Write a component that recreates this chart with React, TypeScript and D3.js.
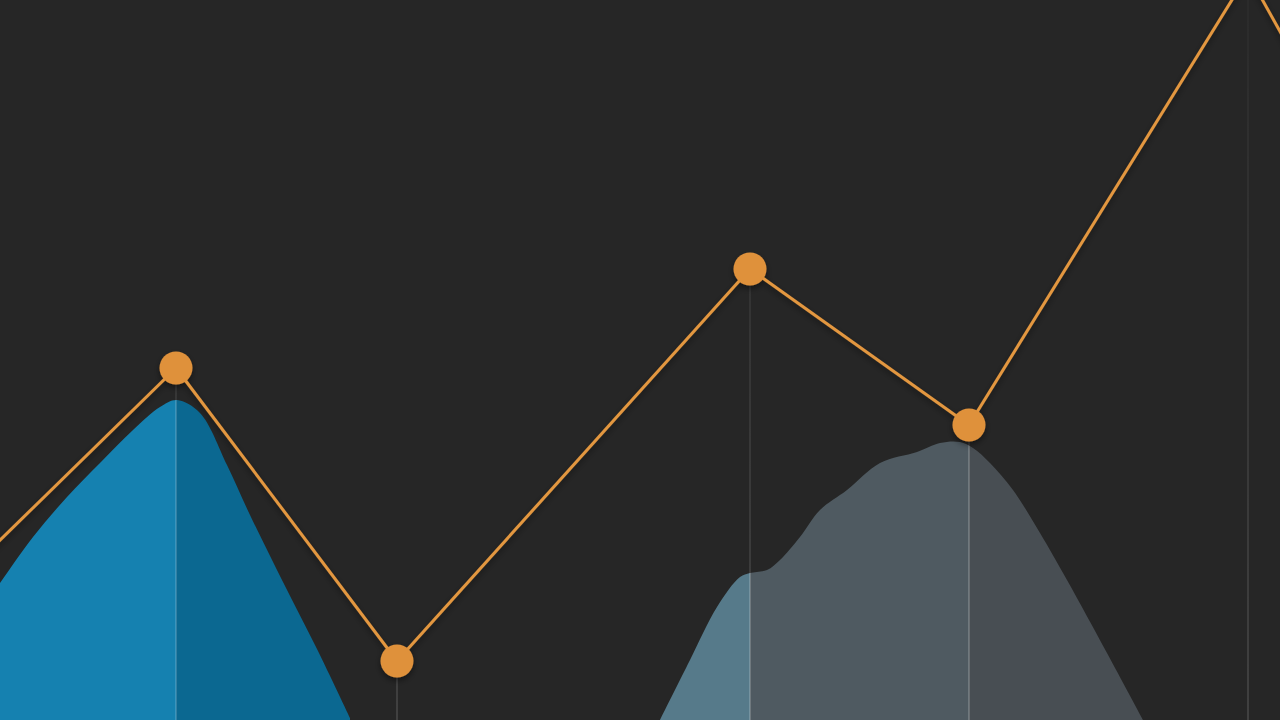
import React from "react";
import * as d3 from "d3";

const W = 1280;
const H = 720;

// Orange line series (x in chart units, y in chart units)
const lineX = [-1.0, 1.76, 3.97, 7.5, 9.69, 12.48, 13.5];
const lineY = [0.82, 3.52, 0.59, 4.51, 2.95, 7.46, 5.63];

// Blue mountain (left)
const blueX = [-0.5, 0, 0.33, 0.67, 1.0, 1.33, 1.6, 1.77, 2.0, 2.27, 2.5, 2.83, 3.17, 3.5];
const blueY = [0.67, 1.37, 1.83, 2.23, 2.57, 2.9, 3.13, 3.2, 3.07, 2.55, 2.05, 1.38, 0.71, 0.02];
const blueSplits = [1.76];
const blueColors = ["#1581b0", "#0b6891"];

// Gray mountain (right)
const grayX = [6.6, 6.9, 7.17, 7.4, 7.5, 7.67, 7.8, 8.0, 8.2, 8.47, 8.8, 9.17, 9.4, 9.6, 9.73, 9.9, 10.13, 10.4, 10.67, 11.07, 11.43];
const grayY = [0, 0.6, 1.13, 1.43, 1.47, 1.5, 1.6, 1.83, 2.1, 2.3, 2.57, 2.68, 2.77, 2.78, 2.72, 2.57, 2.3, 1.87, 1.4, 0.67, 0];
const graySplits = [7.5, 9.69];
const grayColors = ["#567a8a", "#4f5a61", "#484e53"];

const xDomain = [0, 12.8];
const yDomain = [0, 7.2];

export default function App() {
  const x = d3.scaleLinear().domain(xDomain).range([0, W]);
  const y = d3.scaleLinear().domain(yDomain).range([H, 0]);

  const area = d3
    .area<[number, number]>()
    .x((d) => x(d[0]))
    .y0(y(0))
    .y1((d) => y(d[1]))
    .curve(d3.curveCatmullRom.alpha(0.5));

  const line = d3
    .line<[number, number]>()
    .x((d) => x(d[0]))
    .y((d) => y(d[1]));

  const bluePts = blueX.map((v, i) => [v, blueY[i]] as [number, number]);
  const grayPts = grayX.map((v, i) => [v, grayY[i]] as [number, number]);
  const linePts = lineX.map((v, i) => [v, lineY[i]] as [number, number]);

  const bluePath = area(bluePts) || "";
  const grayPath = area(grayPts) || "";

  const segs = (splits: number[], lo: number, hi: number) => {
    const b = [lo, ...splits, hi];
    return b.slice(0, -1).map((s, i) => [s, b[i + 1]]);
  };
  const blueSegs = segs(blueSplits, blueX[0], blueX[blueX.length - 1] + 0.2);
  const graySegs = segs(graySplits, grayX[0] - 0.2, grayX[grayX.length - 1] + 0.2);

  return (
    <div style={{ position: "fixed", left: 0, top: 0, width: W, height: H }}>
      <svg width={W} height={H} style={{ display: "block" }}>
        <defs>
          <clipPath id="blueClip">
            <path d={bluePath} />
          </clipPath>
          <clipPath id="grayClip">
            <path d={grayPath} />
          </clipPath>
          <filter id="shadow" x="-50%" y="-50%" width="200%" height="200%">
            <feDropShadow dx="0" dy="3" stdDeviation="3" floodColor="#000" floodOpacity="0.45" />
          </filter>
          <linearGradient id="dropFade" x1="0" y1="0" x2="0" y2={H} gradientUnits="userSpaceOnUse">
            <stop offset="0" stopColor="#ffffff" stopOpacity={0.03} />
            <stop offset="1" stopColor="#ffffff" stopOpacity={0.16} />
          </linearGradient>
        </defs>
        <rect x={0} y={0} width={W} height={H} fill="#262626" />

        {/* vertical drop lines on background */}
        {linePts.map((p, i) => (
          <rect
            key={"v" + i}
            x={x(p[0]) - 0.75}
            y={Math.max(0, y(p[1]))}
            width={1.5}
            height={H - Math.max(0, y(p[1]))}
            fill="url(#dropFade)"
          />
        ))}

        {/* blue area segments */}
        <g clipPath="url(#blueClip)">
          {blueSegs.map((s, i) => (
            <rect key={"b" + i} x={x(s[0])} y={0} width={x(s[1]) - x(s[0])} height={H} fill={blueColors[i]} />
          ))}
          {linePts.map((p, i) => (
            <line key={"bv" + i} x1={x(p[0])} x2={x(p[0])} y1={0} y2={H} stroke="#ffffff" strokeOpacity={0.22} strokeWidth={1.5} />
          ))}
        </g>

        {/* gray area segments */}
        <g clipPath="url(#grayClip)">
          {graySegs.map((s, i) => (
            <rect key={"g" + i} x={x(s[0])} y={0} width={x(s[1]) - x(s[0])} height={H} fill={grayColors[i]} />
          ))}
          {linePts.map((p, i) => (
            <line key={"gv" + i} x1={x(p[0])} x2={x(p[0])} y1={0} y2={H} stroke="#ffffff" strokeOpacity={0.25} strokeWidth={1.5} />
          ))}
        </g>

        {/* orange line */}
        <g filter="url(#shadow)">
          <path d={line(linePts) || ""} fill="none" stroke="#e3973f" strokeWidth={3} strokeLinejoin="round" />
          {linePts.map((p, i) => (
            <circle key={"c" + i} cx={x(p[0])} cy={y(p[1])} r={16.5} fill="#df913b" />
          ))}
        </g>
      </svg>
    </div>
  );
}
